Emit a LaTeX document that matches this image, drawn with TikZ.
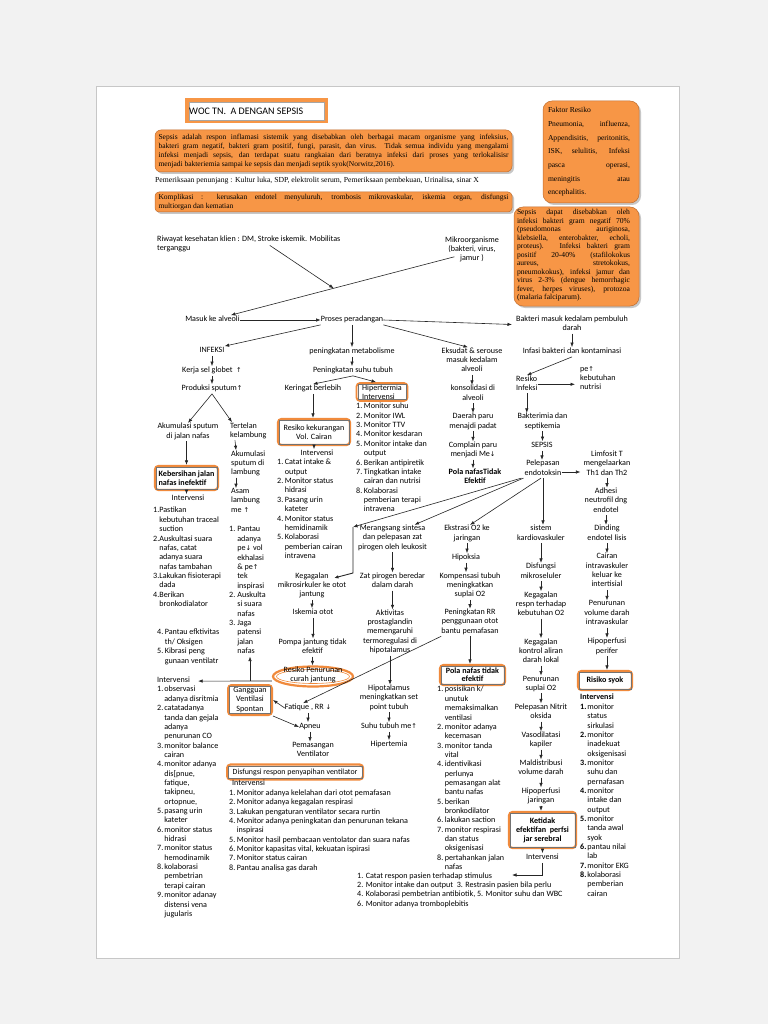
\documentclass[tikz,border=0pt]{standalone}
\usepackage{fontspec}
\setmainfont{Carlito}
\newfontfamily\tms{Liberation Serif}
\newfontfamily\dv{DejaVu Sans}
\usetikzlibrary{arrows.meta,shapes.geometric,calc}
\definecolor{orF}{HTML}{F79646}
\definecolor{orB}{HTML}{F08A3C}
\definecolor{pagebg}{HTML}{F2F2F2}
\newcommand\fsz{\fontsize{8.1}{9.35}\selectfont}
\newcommand\ua{{\dv\fontsize{6.6}{9}\selectfont ↑}}
\newcommand\da{{\dv\fontsize{6.6}{9}\selectfont ↓}}
\newcommand\jl[2]{\makebox[#1][s]{#2}}
\newcommand\inr[1]{\draw[black!55, line width=0.4pt] ([shift={(2.4pt,2.4pt)}]#1.south west) rectangle ([shift={(-2.4pt,-2.4pt)}]#1.north east);}
\newcommand\varr[2]{\draw[arr] (#1.south) -- (#1.south |- #2.north);}
\begin{document}
\begin{tikzpicture}[x=1pt,y=-1pt,
 tx/.style={inner sep=0pt, align=center, font=\fsz, execute at begin node=\strut, execute at end node=\strut},
 txl/.style={tx, align=left, anchor=north west},
 lst/.style={inner sep=0pt, anchor=north west, font=\fsz},
 arr/.style={draw=black!85, line width=0.6pt, -{Latex[length=4.5pt,width=3.4pt]}},
 dg/.style={draw=orB, line width=2.2pt, rounded corners=3.5pt, fill=white, inner sep=0pt, align=center, font=\fsz},
 obox/.style={fill=orF, draw=orB!80!black, line width=0.5pt},
 shad/.style={fill=black!22},
]
\useasboundingbox (0,0) rectangle (768,1024);
\fill[pagebg] (0,0) rectangle (768,1024);
\fill[white, draw=black!22] (96,86) rectangle (679,958);

% ---------- header ----------
\fill[orF] (185,98) rectangle (328,123);
\fill[white, draw=black!35, line width=0.5pt] (189,102) rectangle (324,120);
\node[inner sep=0pt, anchor=west, font=\fontsize{10}{12}\selectfont] (title) at (189,111) {WOC TN.\ \ A DENGAN SEPSIS};

\fill[shad, rounded corners=6pt] (157,132) rectangle (514,174);
\draw[obox, rounded corners=6pt] (155,130) rectangle (512,172);
\node[inner sep=0pt, align=left, font=\tms\fontsize{7.5}{9}\selectfont] (def) at (333.5,151) {%
\jl{350pt}{Sepsis adalah respon inflamasi sistemik yang disebabkan oleh berbagai macam organisme yang infeksius,}\\
\jl{350pt}{bakteri gram negatif, bakteri gram positif, fungi, parasit, dan virus. Tidak semua individu yang mengalami}\\
\jl{350pt}{infeksi menjadi sepsis, dan terdapat suatu rangkaian dari beratnya infeksi dari proses yang terlokalisisr}\\
menjadi bakteriemia sampai ke sepsis dan menjadi septik syok(Norwitz,2016).};

\node[inner sep=0pt, anchor=west, font=\tms\fontsize{7.7}{9}\selectfont] (pem) at (155,181) {Pemeriksaan penunjang : Kultur luka, SDP, elektrolit serum, Pemeriksaan pembekuan, Urinalisa, sinar X};

\fill[shad, rounded corners=4pt] (157,194) rectangle (514,214);
\draw[obox, rounded corners=4pt] (155,192) rectangle (512,212);
\node[inner sep=0pt, align=left, font=\tms\fontsize{7.5}{8.5}\selectfont] (komp) at (333.5,202) {%
\jl{350pt}{Komplikasi : kerusakan endotel menyuluruh, trombosis mikrovaskular, iskemia organ, disfungsi}\\
multiorgan dan kematian};

\fill[shad, rounded corners=9pt] (545,103) rectangle (641,205);
\draw[obox, rounded corners=9pt] (543,101) rectangle (639,203);
\node[inner sep=0pt, align=left, font=\tms\fontsize{7.6}{13.7}\selectfont] (faktor) at (589,152) {%
Faktor Resiko\\
\jl{82pt}{Pneumonia, influenza,}\\
\jl{82pt}{Appendisitis, peritonitis,}\\
\jl{82pt}{ISK, selulitis, Infeksi}\\
\jl{82pt}{pasca operasi,}\\
\jl{82pt}{meningitis atau}\\
encephalitis.};

\fill[shad, rounded corners=9pt] (516,209) rectangle (641,308);
\draw[obox, rounded corners=9pt] (514,207) rectangle (639,306);
\node[inner sep=0pt, align=left, font=\tms\fontsize{7.6}{8.5}\selectfont] (sebab) at (573.5,255.5) {%
\jl{113pt}{Sepsis dapat disebabkan oleh}\\
\jl{113pt}{infeksi bakteri gram negatif 70\%}\\
\jl{113pt}{(pseudomonas auriginosa,}\\
\jl{113pt}{klebsiella, enterobakter, echoli,}\\
\jl{113pt}{proteus). Infeksi bakteri gram}\\
\jl{113pt}{positif 20-40\% (stafilokokus}\\
\jl{113pt}{aureus, stretokokus,}\\
\jl{113pt}{pneumokokus), infeksi jamur dan}\\
\jl{113pt}{virus 2-3\% (dengue hemorrhagic}\\
\jl{113pt}{fever, herpes viruses), protozoa}\\
(malaria falciparum).};

% ---------- flow nodes ----------
\node[txl] (riw) at (157,235.2) {Riwayat kesehatan klien : DM, Stroke iskemik. Mobilitas\\terganggu};
\node[tx] (mikro) at (472,250) {Mikroorganisme\\(bakteri, virus,\\jamur )};
\node[tx] (masuk) at (212.5,320) {Masuk ke alveoli};
\node[tx] (proses) at (352,320) {Proses peradangan};
\node[tx] (bakteri) at (572,324.5) {Bakteri masuk kedalam pembuluh\\darah};
\node[tx] (infeksi) at (212,351) {INFEKSI};
\node[tx] (metab) at (352,352) {peningkatan metabolisme};
\node[tx] (eksudat) at (472,361) {Eksudat \& serouse\\masuk kedalam\\alveoli};
\node[tx] (infasi) at (572,352) {Infasi bakteri dan kontaminasi};
\node[tx] (kerja) at (212,371) {Kerja sel globet\ \ \ua};
\node[tx] (suhu) at (353,371) {Peningkatan suhu tubuh};
\node[txl] (resinf) at (516,375.2) {Resiko\\Infeksi};
\node[txl] (nutri) at (580,366.2) {pe\ua\\kebutuhan\\nutrisi};
\node[tx] (produksi) at (212,389) {Produksi sputum\ua};
\node[tx] (keringat) at (313,389) {Keringat berlebih};
\node[dg, minimum width=51, minimum height=18, align=left, line width=1.8pt] (hiper) at (382,392) {Hipertermia\\Intervensi};
\node[tx] (kons) at (473,394) {konsolidasi di\\alveoli};
\node[tx] (akum) at (188,432) {Akumulasi sputum\\di jalan nafas};
\node[txl] (tert) at (230,422.2) {Tertelan\\kelambung};
\node[dg, minimum width=72, minimum height=26] (rkv) at (314,432) {Resiko kekurangan\\Vol. Cairan};
\node[tx] (daerah) at (473,422) {Daerah paru\\menajdi padat};
\node[tx] (bakterimia) at (542.5,422) {Bakterimia dan\\septikemia};
\node[tx] (sepsis) at (542,446) {SEPSIS};
\node[tx] (compl) at (473,450.5) {Complain paru\\menjadi Me\da};
\node[txl] (akum2) at (231,450.2) {Akumulasi\\sputum di\\lambung};
\node[tx] (int3) at (317,454) {Intervensi};
\node[tx] (limfosit) at (607,464.5) {Limfosit T\\mengelaarkan\\Th1 dan Th2};
\node[tx] (pelepasan) at (543,469) {Pelepasan\\endotoksin};
\node[tx, font=\fsz\bfseries] (pola1) at (475,477.5) {Pola nafasTidak\\Efektif};
\node[dg, minimum width=63, minimum height=24, align=left, font=\fsz\bfseries] (kb) at (186.5,478) {Kebersihan jalan\\nafas inefektif};
\node[txl] (asam) at (231,488.2) {Asam\\lambung\\me \ua};
\node[tx] (int1) at (188,499) {Intervensi};
\node[tx] (adhesi) at (606,501.5) {Adhesi\\neutrofil dng\\endotel};
\node[tx] (dinding) at (607,534) {Dinding\\endotel lisis};
\node[tx] (merang) at (392.5,538.5) {Merangsang sintesa\\dan pelepasan zat\\pirogen oleh leukosit};
\node[tx] (ekstrasi) at (467,534) {Ekstrasi O2 ke\\jaringan};
\node[tx] (sistem) at (541,534) {sistem\\kardiovaskuler};
\node[tx] (hipoksia) at (466,558) {Hipoksia};
\node[tx] (cairan) at (607,571.5) {Cairan\\intravaskuler\\keluar ke\\intertisial};
\node[tx] (disf) at (541,572) {Disfungsi\\mikroseluler};
\node[tx] (zatp) at (392.5,581.5) {Zat pirogen beredar\\dalam darah};
\node[tx] (kegmik) at (312,586) {Kegagalan\\mikrosirkuler ke otot\\jantung};
\node[tx] (kompen) at (470,586) {Kompensasi tubuh\\meningkatkan\\suplai O2};
\node[tx] (kegres) at (541,605) {Kegagalan\\respn terhadap\\kebutuhan O2};
\node[tx] (iskemia) at (313,613) {Iskemia otot};
\node[tx] (penurunan) at (607,614) {Penurunan\\volume darah\\intravaskular};
\node[tx] (rr) at (470,622.5) {Peningkatan RR\\penggunaan otot\\bantu pemafasan};
\node[tx] (aktiv) at (390,632.5) {Aktivitas\\prostaglandin\\memengaruhi\\termoregulasi di\\hipotalamus};
\node[tx] (hipoperf) at (607,647) {Hipoperfusi\\perifer};
\node[tx] (pompa) at (312.5,647.5) {Pompa jantung tidak\\efektif};
\node[tx] (kegkon) at (541,652) {Kegagalan\\kontrol aliran\\darah lokal};
\node[dg, minimum width=65, minimum height=20, font=\fontsize{8.1}{8.3}\selectfont\bfseries] (pola2) at (472.5,675) {Pola nafas tidak\\efektif};
\node[ellipse, draw=orB, line width=2.2pt, minimum width=80, minimum height=20, inner sep=0pt] (rpc) at (313,676.5) {};
\draw[orB, line width=0.6pt] (rpc.center) ellipse [x radius=36.5pt, y radius=7pt];
\node[tx, font=\fontsize{8.1}{9}\selectfont] (rpct) at (313,676) {Resiko Penurunan\\curah jantung};
\node[dg, minimum width=54, minimum height=19, font=\fsz\bfseries] (syok) at (605,680.5) {Risiko syok};
\node[tx] (pensup) at (541,684.5) {Penurunan\\suplai O2};
\node[tx] (hipot) at (389,698.5) {Hipotalamus\\meningkatkan set\\point tubuh};
\node[dg, minimum width=44, minimum height=30, line width=2pt] (gvs) at (250,700) {Gangguan\\Ventilasi\\Spontan};
\node[tx] (fatique) at (308,708) {Fatique , RR \da};
\node[tx] (nitrit) at (541,712.5) {Pelepasan Nitrit\\oksida};
\node[tx] (suhume) at (389,727) {Suhu tubuh me\ua};
\node[tx] (apneu) at (310,727) {Apneu};
\node[tx] (vaso) at (541,740.5) {Vasodilatasi\\kapiler};
\node[tx] (hipertemia) at (389,745) {Hipertemia};
\node[tx] (pemasangan) at (313,750.5) {Pemasangan\\Ventilator};
\node[tx] (maldis) at (541,768.5) {Maldistribusi\\volume darah};
\node[dg, anchor=west, minimum width=136, minimum height=15, inner xsep=3pt, font=\fontsize{7.9}{9}\selectfont] (dfs) at (226,772) {Disfungsi respon penyapihan ventilator};
\node[tx] (hipojar) at (541,796.5) {Hipoperfusi\\jaringan};
\node[dg, minimum width=67, minimum height=36, font=\fontsize{8.1}{9}\selectfont\bfseries] (ketbox) at (542.5,830) {Ketidak\\efektifan\ \ perfsi\\jar serebral};
\node[tx] (int9) at (542.5,858) {Intervensi};
\node[txl] (int5) at (157,676.2) {Intervensi};

\inr{hiper}\inr{rkv}\inr{kb}\inr{pola2}\inr{syok}\inr{gvs}\inr{dfs}\inr{ketbox}

% ---------- lists ----------
\node[lst] (l1) at (153,506.2) {\begin{tabular}{@{}l@{}l@{}}
1.&Pastikan\\ &kebutuhan traceal\\ &suction\\
2.&Auskultasi suara\\ &nafas, catat\\ &adanya suara\\ &nafas tambahan\\
3.&Lakukan fisioterapi\\ &dada\\
4.&Berikan\\ &bronkodialator\end{tabular}};
\node[lst] (l1b) at (157,628.2) {\begin{tabular}{@{}l@{\hspace{1.5pt}}l@{}}
4.&Pantau efktivitas\\ &th/ Oksigen\\
5.&Kibrasi peng\\ &gunaan ventilatr\end{tabular}};
\node[lst] (l2) at (229,525.2) {\begin{tabular}{@{}l@{\hspace{2pt}}l@{}}
1.&Pantau\\ &adanya\\ &pe\da{} vol\\ &ekhalasi\\ &\& pe\ua\\ &tek\\ &inspirasi\\
2.&Auskulta\\ &si suara\\ &nafas\\
3.&Jaga\\ &patensi\\ &jalan\\ &nafas\end{tabular}};
\node[lst] (l3) at (277,458.2) {\begin{tabular}{@{}l@{\hspace{1.5pt}}l@{}}
1.&Catat intake \&\\ &output\\
2.&Monitor status\\ &hidrasi\\
3.&Pasang urin\\ &kateter\\
4.&Monitor status\\ &hemidinamik\\
5.&Kolaborasi\\ &pemberian cairan\\ &intravena\end{tabular}};
\node[lst] (l4) at (356,402.2) {\begin{tabular}{@{}l@{\hspace{1.5pt}}l@{}}
1.&Monitor suhu\\
2.&Monitor IWL\\
3.&Monitor TTV\\
4.&Monitor kesdaran\\
5.&Monitor intake dan\\ &output\\
6.&Berikan antipiretik\\
7.&Tingkatkan intake\\ &cairan dan nutrisi\\
8.&Kolaborasi\\ &pemberian terapi\\ &intravena\end{tabular}};
\node[lst] (l5) at (157,685.2) {\begin{tabular}{@{}l@{\hspace{1pt}}l@{}}
1.&observasi\\ &adanya disritmia\\
2.&catatadanya\\ &tanda dan gejala\\ &adanya\\ &penurunan CO\\
3.&monitor balance\\ &cairan\\
4.&monitor adanya\\ &dis[pnue,\\ &fatique,\\ &takipneu,\\ &ortopnue,\\
5.&pasang urin\\ &kateter\\
6.&monitor status\\ &hidrasi\\
7.&monitor status\\ &hemodinamik\\
8.&kolaborasi\\ &pembetrian\\ &terapi cairan\\
9.&monitor adanay\\ &distensi vena\\ &jugularis\end{tabular}};
\node[lst] (l6) at (229,779.2) {\begin{tabular}{@{}l@{\hspace{1.5pt}}l@{}}
\multicolumn{2}{@{\hspace{3pt}}l@{}}{Intervensi}\\
1.&Monitor adanya kelelahan dari otot pemafasan\\
2.&Monitor adanya kegagalan respirasi\\
3.&Lakukan pengaturan ventilator secara rurtin\\
4.&Monitor adanya peningkatan dan penurunan tekana\\ &inspirasi\\
5.&Monitor hasil pembacaan ventolator dan suara nafas\\
6.&Monitor kapasitas vital, kekuatan ispirasi\\
7.&Monitor status cairan\\
8.&Pantau analisa gas darah\end{tabular}};
\node[lst] (l7) at (437,685.2) {\begin{tabular}{@{}l@{\hspace{1.5pt}}l@{}}
1.&posisikan k/\\ &unutuk\\ &memaksimalkan\\ &ventilasi\\
2.&monitor adanya\\ &kecemasan\\
3.&monitor tanda\\ &vital\\
4.&identivikasi\\ &perlunya\\ &pemasangan alat\\ &bantu nafas\\
5.&berikan\\ &bronkodilator\\
6.&lakukan saction\\
7.&monitor respirasi\\ &dan status\\ &oksigenisasi\\
8.&pertahankan jalan\\ &nafas\end{tabular}};
\node[lst] (l8) at (580,693.2) {\begin{tabular}{@{}l@{\hspace{1pt}}l@{}}
\multicolumn{2}{@{}l@{}}{\textbf{Intervensi}}\\
\textbf{1.}&monitor\\ &status\\ &sirkulasi\\
\textbf{2.}&monitor\\ &inadekuat\\ &oksigenisasi\\
\textbf{3.}&monitor\\ &suhu dan\\ &pernafasan\\
\textbf{4.}&monitor\\ &intake dan\\ &output\\
\textbf{5.}&monitor\\ &tanda awal\\ &syok\\
\textbf{6.}&pantau nilai\\ &lab\\
\textbf{7.}&monitor EKG\\
\textbf{8.}&kolaborasi\\ &pemberian\\ &cairan\end{tabular}};
\node[txl] (l9) at (357,872.2) {1. Catat respon pasien terhadap stimulus\\
2. Monitor intake dan output\ \ 3. Restrasin pasien bila perlu\\
4. Kolaborasi pembetrian antibiotik, 5. Monitor suhu dan WBC\\
6. Monitor adanya tromboplebitis};

% ---------- connectors ----------
\coordinate (mS) at ([shift={(9.5pt,7pt)}]mikro.south west);
\coordinate (mE) at ([xshift=-9pt]masuk.north east);
\draw[arr] (mS) -- (mE);
\path (mS) -- (mE) coordinate[pos=0.54] (j1);
\draw[arr] ([shift={(21pt,8pt)}]riw.south) -- (j1);
\draw[arr] (masuk) -- (proses);
\draw[arr] (proses.east) -- ([xshift=-4pt]bakteri.west);
\draw[arr] (proses.south west) -- (infeksi.north east);
\draw[arr] (proses) -- (metab);
\draw[arr] (proses.south east) -- ([xshift=-4pt]eksudat.north);
\varr{infeksi}{kerja}
\varr{kerja}{produksi}
\draw[arr] (produksi.south) -- (akum.north);
\draw[arr] (produksi.south) -- ([xshift=2pt]tert.north west);
\draw[arr] (akum.south -| kb.north) -- (kb.north);
\varr{kb}{int1}
\draw[arr] ([xshift=5pt]tert.south west) -- ([xshift=5pt]akum2.north west);
\draw[arr] ([xshift=5pt]akum2.south west) -- ([xshift=5pt]asam.north west);
\varr{metab}{suhu}
\draw[arr] (suhu.south) -- (keringat.north);
\draw[arr] (suhu.south) -- ([xshift=-6pt]hiper.north);
\varr{keringat}{rkv}
\varr{rkv}{int3}
\varr{eksudat}{kons}
\varr{kons}{daerah}
\varr{daerah}{compl}
\varr{compl}{pola1}
\varr{bakteri}{infasi}
\draw[arr] (infasi.south) -- (resinf.north);
\draw[arr] (resinf.east) -- ($(resinf.east -| nutri.west)+(-5,0)$);
\draw[arr] (resinf.south) -- (resinf.south |- bakterimia.north);
\varr{bakterimia}{sepsis}
\varr{sepsis}{pelepasan}
\coordinate (pe) at ($(pelepasan.east)+(0,3)$);
\draw[arr] (pe) -- ($(pe -| limfosit.west)+(-3,0)$);
\varr{limfosit}{adhesi}
\varr{adhesi}{dinding}
\varr{dinding}{cairan}
\varr{cairan}{penurunan}
\varr{penurunan}{hipoperf}
\varr{hipoperf}{syok}
\varr{pelepasan}{sistem}
\varr{sistem}{disf}
\varr{disf}{kegres}
\varr{kegres}{kegkon}
\varr{kegkon}{pensup}
\varr{pensup}{nitrit}
\varr{nitrit}{vaso}
\varr{vaso}{maldis}
\varr{maldis}{hipojar}
\varr{hipojar}{ketbox}
\varr{ketbox}{int9}
\coordinate (e9) at (512,875);
\draw[arr] (int9.south) |- (e9);
% fan from endotoksin
\coordinate (kA) at (353,527);
\coordinate (kB) at (353,573);
\coordinate (kC) at (334,578);
\draw[arr] ([xshift=-3pt]pelepasan.south west) -- (kA);
\draw[arr, line width=0.9pt] (kA) -- (kB) -- (kC);
\draw[arr] ([xshift=-1pt]pelepasan.south west) -- ([xshift=22pt]merang.north);
\draw[arr] ([xshift=-2pt]pelepasan.south) -- ([xshift=3pt]ekstrasi.north);
\varr{merang}{zatp}
\varr{zatp}{aktiv}
\varr{aktiv}{hipot}
\varr{hipot}{suhume}
\varr{suhume}{hipertemia}
\varr{ekstrasi}{hipoksia}
\varr{hipoksia}{kompen}
\varr{kompen}{rr}
\draw[arr] (rr.south west) -- ([xshift=-5pt]fatique.north);
\varr{rr}{pola2}
\varr{kegmik}{iskemia}
\varr{iskemia}{pompa}
\varr{pompa}{rpc}
\draw[arr] ($(rpc.west)+(0,4.5)$) -- ($(int5.east)+(8,0)$);
\coordinate (jup) at (250,681);
\draw[arr] (jup) -- (jup |- l2.south);
\draw[arr] (fatique.west) -- (gvs.east);
\varr{fatique}{apneu}
\draw[arr] (gvs.south east) -- (apneu.west);
\varr{apneu}{pemasangan}
\end{tikzpicture}
\end{document}
